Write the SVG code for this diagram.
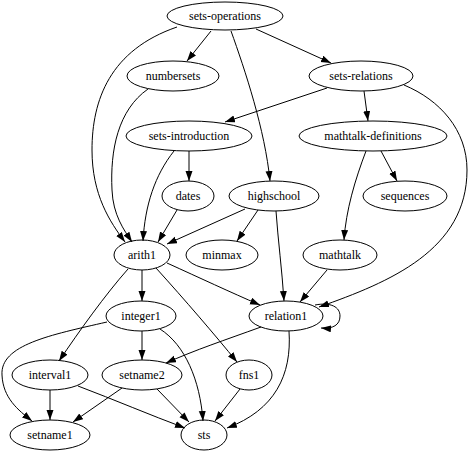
<svg xmlns="http://www.w3.org/2000/svg" width="474" height="459" viewBox="0 0 474 459">
<style>
.n ellipse{fill:none;stroke:#000;stroke-width:1}
.n text{font-family:"Liberation Serif","Times New Roman",serif;font-size:12px;text-anchor:middle;fill:#000}
#edges path{fill:none;stroke:#000;stroke-width:1;marker-end:url(#ah)}
</style>
<defs>
<marker id="ah" markerUnits="userSpaceOnUse" markerWidth="10" markerHeight="8" refX="10" refY="3.5" orient="auto">
<path d="M0,0 L10,3.5 L0,7 z" fill="#000"/>
</marker>
</defs>
<rect width="474" height="459" fill="#fff"/>
<g id="edges">
<path d="M211,31 L187,61"/>
<path d="M256,29 L331,63"/>
<path d="M231,31 C245,70 265,130 270,181"/>
<path d="M177,27 C110,50 92,100 92,150 C92,195 110,222 125,242"/>
<path d="M148,89 C118,110 110,150 112,190 C113,215 124,230 132,242"/>
<path d="M327,88 L225,122"/>
<path d="M364,91 L368,121"/>
<path d="M404,85 C440,100 467,130 467,170 C467,250 390,282 319,307"/>
<path d="M189,151 L189,181"/>
<path d="M174,151 C155,175 145,205 143,241"/>
<path d="M381,151 L397,181"/>
<path d="M366,151 C355,180 346,210 344,240"/>
<path d="M177,210 L158,242"/>
<path d="M245,209 L167,244"/>
<path d="M258,210 L237,241"/>
<path d="M276,211 C278,240 282,270 284,301"/>
<path d="M327,270 L300,302"/>
<path d="M142,270 L142,301"/>
<path d="M128,269 C105,295 80,330 59,361"/>
<path d="M156,268 C185,300 215,335 237,362"/>
<path d="M167,263 C200,278 230,292 260,305"/>
<path d="M315,305 C331,302 340,307 340,316 C340,325 333,329 321,328"/>
<path d="M142,331 L142,360"/>
<path d="M107,322 C50,335 0,345 2,375 C3,398 18,410 32,421"/>
<path d="M160,329 C185,345 200,380 203,421"/>
<path d="M261,327 C225,340 195,350 166,363"/>
<path d="M289,331 C292,375 275,410 227,428"/>
<path d="M50,390 L50,420"/>
<path d="M78,386 C115,400 150,415 185,428"/>
<path d="M122,388 L73,422"/>
<path d="M157,389 L189,422"/>
<path d="M240,389 L215,421"/>
</g>
<g id="sets-operations" class="n"><ellipse cx="225" cy="16" rx="58" ry="14"/><text x="225" y="20">sets-operations</text></g>
<g id="numbersets" class="n"><ellipse cx="173" cy="76" rx="46" ry="15"/><text x="173" y="80">numbersets</text></g>
<g id="sets-relations" class="n"><ellipse cx="361" cy="76" rx="52" ry="15"/><text x="361" y="80">sets-relations</text></g>
<g id="sets-introduction" class="n"><ellipse cx="189" cy="136" rx="63" ry="15"/><text x="189" y="140">sets-introduction</text></g>
<g id="mathtalk-definitions" class="n"><ellipse cx="373" cy="136" rx="74" ry="15"/><text x="373" y="140">mathtalk-definitions</text></g>
<g id="dates" class="n"><ellipse cx="188" cy="196" rx="26" ry="15"/><text x="188" y="200">dates</text></g>
<g id="highschool" class="n"><ellipse cx="274" cy="196" rx="45" ry="15"/><text x="274" y="200">highschool</text></g>
<g id="sequences" class="n"><ellipse cx="405" cy="196" rx="42" ry="15"/><text x="405" y="200">sequences</text></g>
<g id="arith1" class="n"><ellipse cx="142" cy="255" rx="28" ry="15"/><text x="142" y="259">arith1</text></g>
<g id="minmax" class="n"><ellipse cx="222" cy="255" rx="36" ry="15"/><text x="222" y="259">minmax</text></g>
<g id="mathtalk" class="n"><ellipse cx="340" cy="255" rx="37" ry="15"/><text x="340" y="259">mathtalk</text></g>
<g id="integer1" class="n"><ellipse cx="141" cy="316" rx="35" ry="15"/><text x="141" y="320">integer1</text></g>
<g id="relation1" class="n"><ellipse cx="286" cy="316" rx="37" ry="15"/><text x="286" y="320">relation1</text></g>
<g id="interval1" class="n"><ellipse cx="50" cy="375" rx="38" ry="15"/><text x="50" y="379">interval1</text></g>
<g id="setname2" class="n"><ellipse cx="142" cy="375" rx="40" ry="15"/><text x="142" y="379">setname2</text></g>
<g id="fns1" class="n"><ellipse cx="249" cy="375" rx="23" ry="15"/><text x="249" y="379">fns1</text></g>
<g id="setname1" class="n"><ellipse cx="50" cy="435" rx="40" ry="15"/><text x="50" y="439">setname1</text></g>
<g id="sts" class="n"><ellipse cx="204" cy="435" rx="23" ry="15"/><text x="204" y="439">sts</text></g>
</svg>
